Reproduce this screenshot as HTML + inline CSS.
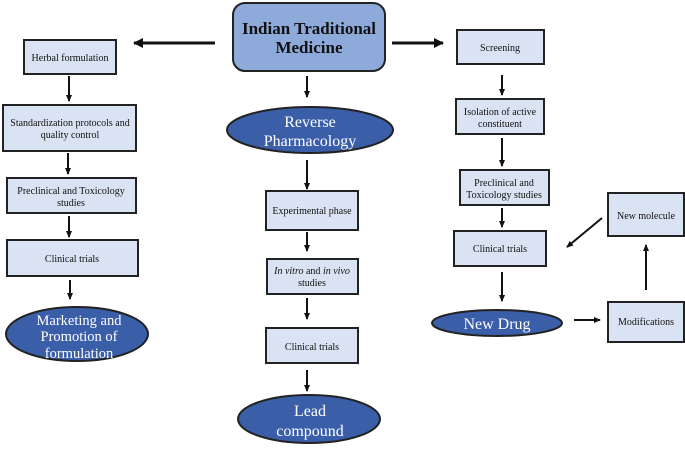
<!DOCTYPE html>
<html><head><meta charset="utf-8"><style>
body{margin:0;background:#fff;}
</style></head><body>
<svg width="685" height="446" xmlns="http://www.w3.org/2000/svg" font-family="Liberation Serif, serif">
<defs><marker id="a" markerWidth="8" markerHeight="8" refX="6" refY="4" orient="auto" markerUnits="userSpaceOnUse"><path d="M0,1 L7,4 L0,7 z" fill="#111"/></marker>
<marker id="b" markerWidth="12" markerHeight="12" refX="9" refY="6" orient="auto" markerUnits="userSpaceOnUse"><path d="M0,1 L10,6 L0,11 z" fill="#111"/></marker></defs>
<g fill="#dae3f3" stroke="#222" stroke-width="2">
<rect x="233" y="3" width="152" height="68" rx="12" fill="#8eaadb"/>
<rect x="24" y="40" width="92" height="34"/>
<rect x="3" y="105" width="133" height="46"/>
<rect x="7" y="178" width="129" height="35"/>
<rect x="7" y="240" width="131" height="36"/>
<rect x="266" y="191" width="92" height="39"/>
<rect x="267" y="259" width="91" height="35"/>
<rect x="266" y="328" width="92" height="35"/>
<rect x="457" y="30" width="87" height="34"/>
<rect x="456" y="99" width="88" height="35"/>
<rect x="460" y="170" width="89" height="35"/>
<rect x="454" y="231" width="92" height="35"/>
<rect x="608" y="302" width="76" height="40"/>
<rect x="608" y="193" width="76" height="43"/>
</g>
<g fill="#3a5ea8" stroke="#222" stroke-width="2">
<ellipse cx="77" cy="334" rx="71" ry="27"/>
<ellipse cx="310" cy="130" rx="83" ry="23"/>
<ellipse cx="309" cy="419" rx="71" ry="24"/>
<ellipse cx="497" cy="323" rx="65" ry="13"/>
</g>
<g stroke="#111" stroke-width="2" marker-end="url(#a)">
<line x1="215" y1="43" x2="134" y2="43" stroke-width="3" marker-end="url(#b)"/>
<line x1="392" y1="43" x2="443" y2="43" stroke-width="3" marker-end="url(#b)"/>
<line x1="69" y1="76" x2="69" y2="101"/>
<line x1="68" y1="153" x2="68" y2="174"/>
<line x1="69" y1="216" x2="69" y2="237"/>
<line x1="70" y1="280" x2="70" y2="299"/>
<line x1="307" y1="76" x2="307" y2="97"/>
<line x1="307" y1="160" x2="307" y2="189"/>
<line x1="307" y1="232" x2="307" y2="251"/>
<line x1="307" y1="298" x2="307" y2="319"/>
<line x1="307" y1="370" x2="307" y2="391"/>
<line x1="502" y1="75" x2="502" y2="95"/>
<line x1="502" y1="138" x2="502" y2="166"/>
<line x1="502" y1="208" x2="502" y2="227"/>
<line x1="502" y1="272" x2="502" y2="301"/>
<line x1="574" y1="320" x2="600" y2="320"/>
<line x1="646" y1="290" x2="646" y2="245"/>
<line x1="602" y1="218" x2="567" y2="247"/>
</g>
<g font-size="10" text-anchor="middle" fill="#111">
<text x="70" y="61">Herbal formulation</text>
<text x="70" y="126">Standardization protocols and</text>
<text x="70" y="138">quality control</text>
<text x="71" y="194">Preclinical  and Toxicology</text>
<text x="71" y="206">studies</text>
<text x="72" y="262">Clinical trials</text>
<text x="312" y="214">Experimental phase</text>
<text x="312" y="274"><tspan font-style="italic">In vitro</tspan> and <tspan font-style="italic">in vivo</tspan></text>
<text x="312" y="286">studies</text>
<text x="312" y="350">Clinical trials</text>
<text x="500" y="51">Screening</text>
<text x="500" y="115">Isolation of active</text>
<text x="500" y="127">constituent</text>
<text x="504" y="186">Preclinical  and</text>
<text x="504" y="198">Toxicology studies</text>
<text x="500" y="252">Clinical trials</text>
<text x="646" y="219">New molecule</text>
<text x="646" y="325">Modifications</text>
</g>
<g font-size="17" font-weight="bold" text-anchor="middle" fill="#111">
<text x="309" y="34">Indian Traditional</text>
<text x="309" y="53">Medicine</text>
</g>
<g font-size="14.5" text-anchor="middle" fill="#fff">
<text x="79" y="325">Marketing and</text>
<text x="79" y="341">Promotion of</text>
<text x="79" y="358">formulation</text>
<text x="310" y="127" font-size="16">Reverse</text>
<text x="310" y="146" font-size="16">Pharmacology</text>
<text x="310" y="416" font-size="16">Lead</text>
<text x="310" y="436" font-size="16">compound</text>
<text x="497" y="329" font-size="16">New Drug</text>
</g>
</svg>
</body></html>
